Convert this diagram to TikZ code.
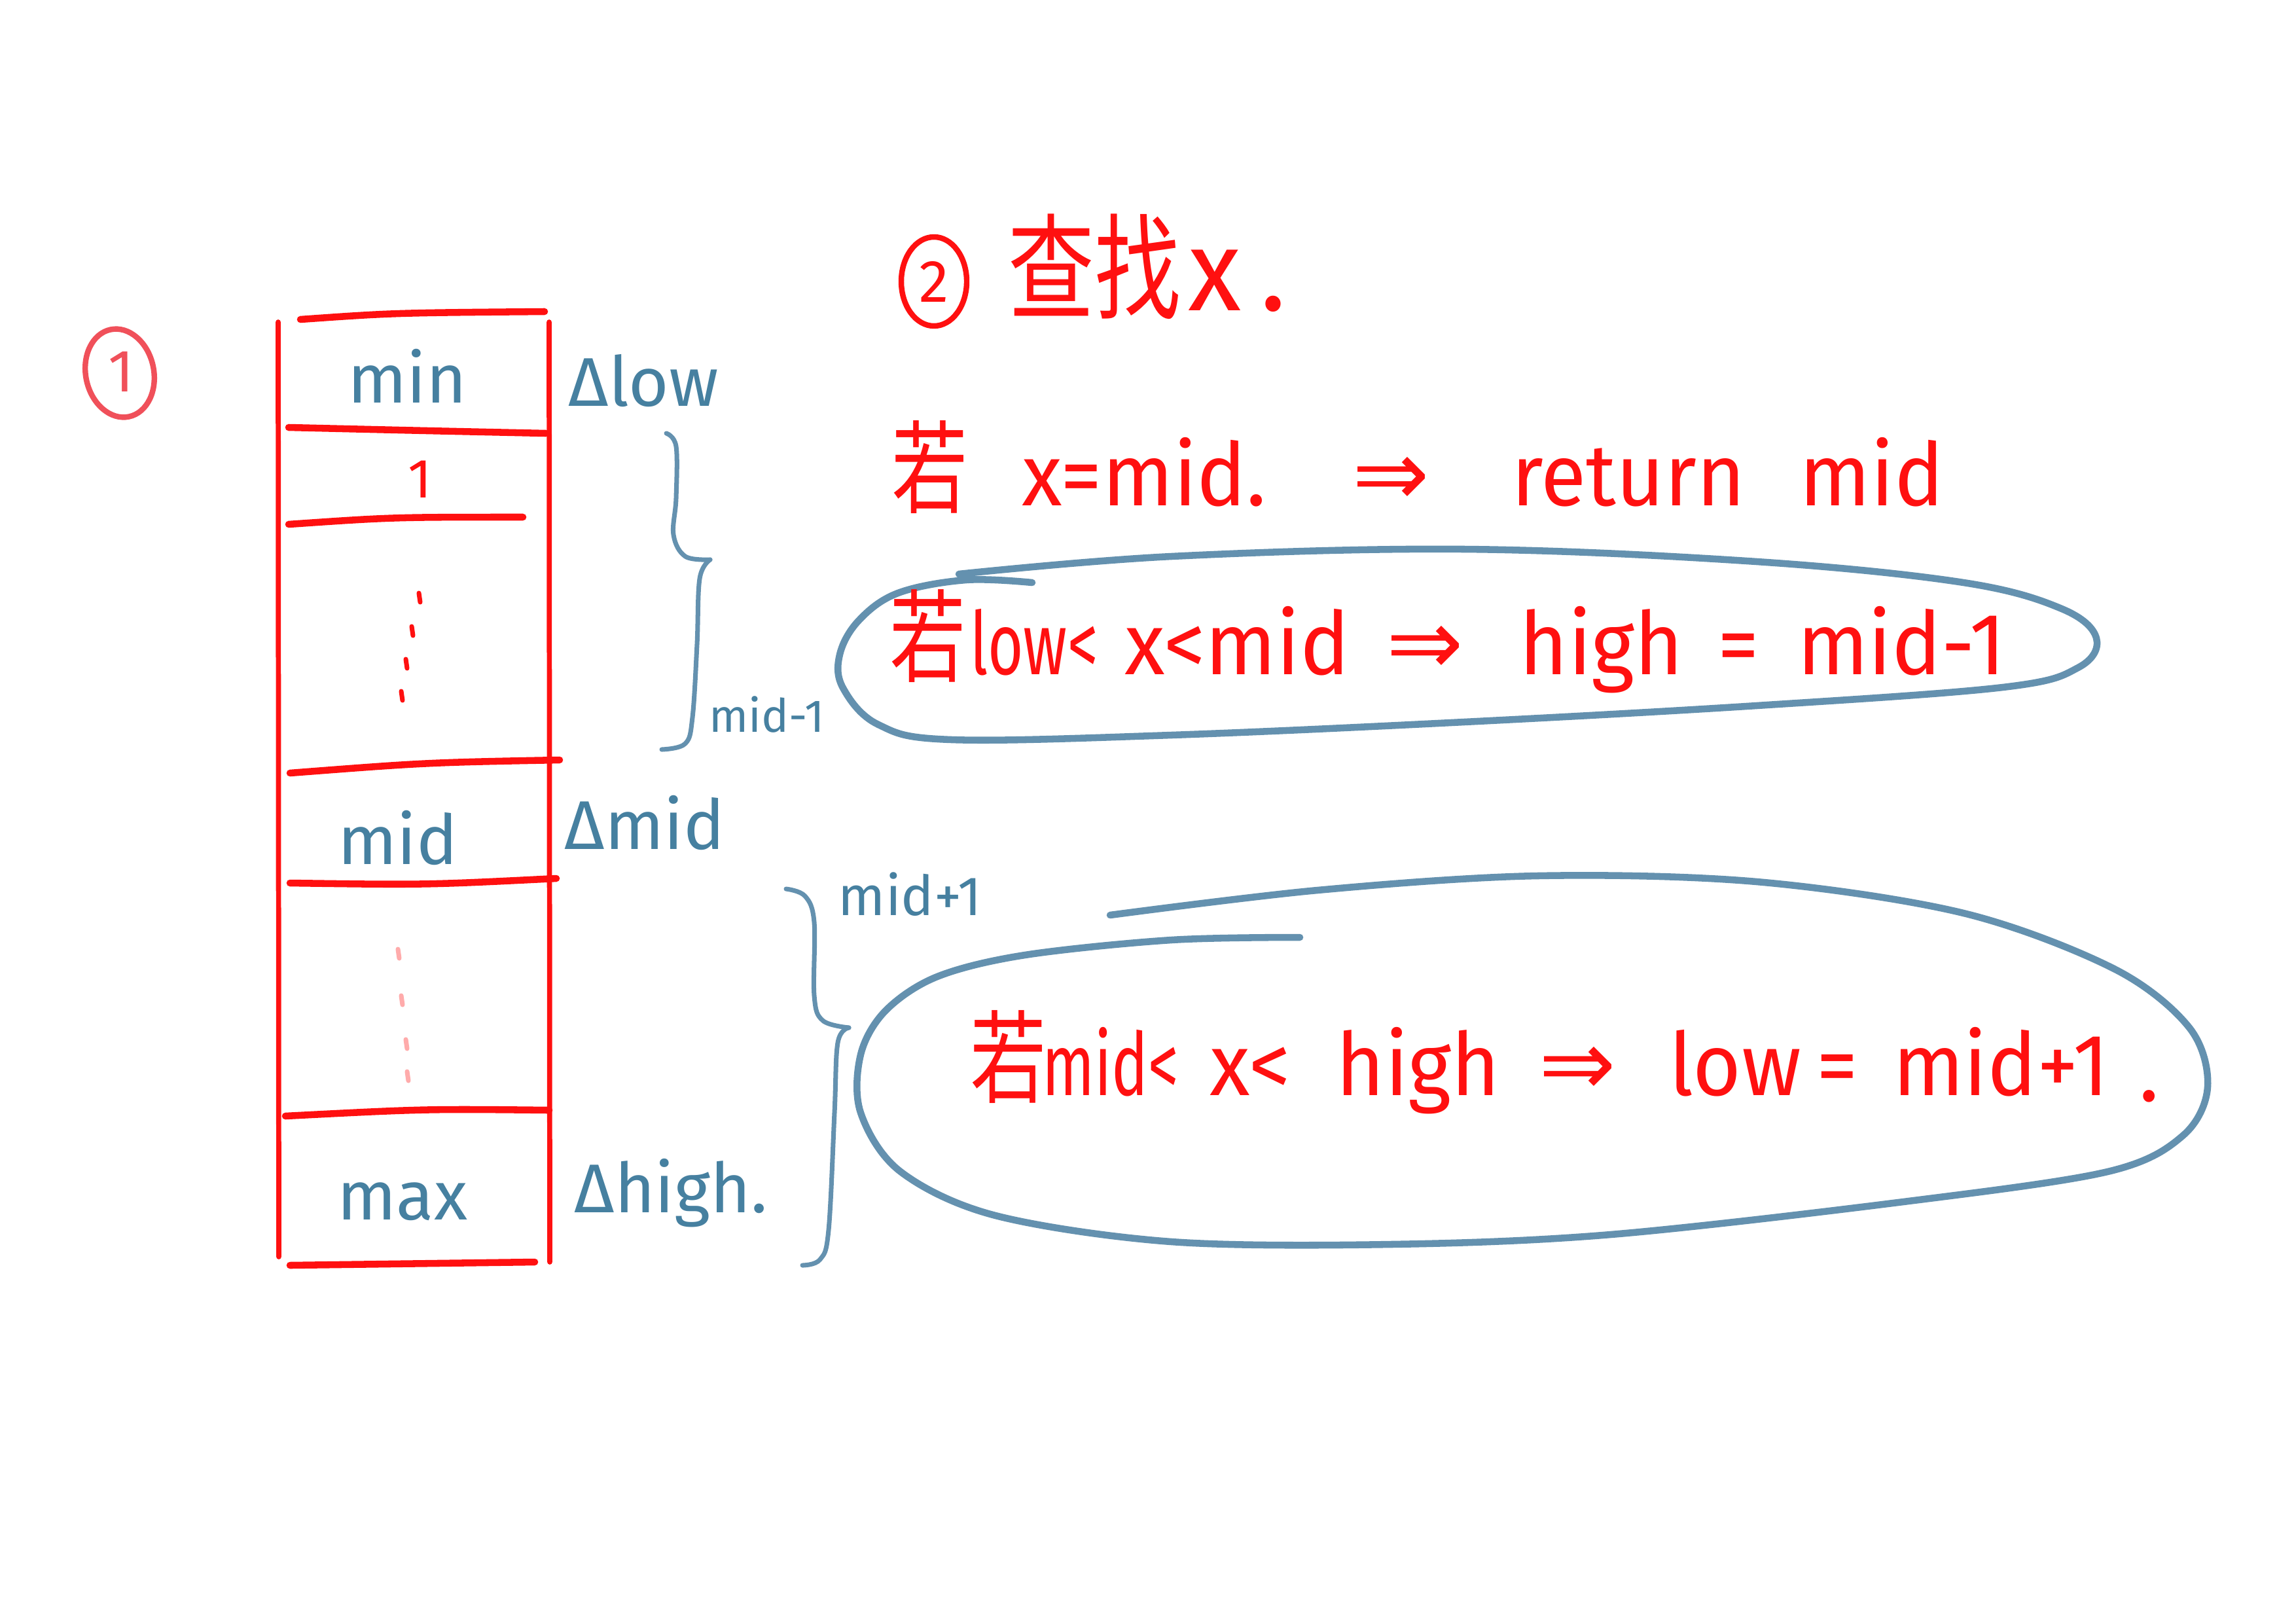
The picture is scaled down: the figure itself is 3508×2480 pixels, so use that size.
\documentclass[tikz,border=0pt]{standalone}
\usepackage{fontspec}
\setmainfont{Fira Sans}
\newfontfamily\hand[FakeStretch=0.95]{Fira Sans}
\newfontfamily\handn[FakeStretch=0.7]{Fira Sans}
\newfontfamily\cjk[FakeStretch=0.75]{Noto Sans CJK SC}
\newfontfamily\symf{DejaVu Sans}
\definecolor{inkred}{RGB}{255,16,16}
\definecolor{softred}{RGB}{240,80,90}
\definecolor{inkblue}{RGB}{70,128,160}
\definecolor{loopblue}{RGB}{100,145,175}
\begin{document}
\begin{tikzpicture}[x=0.1mm,y=-0.1mm,
  redline/.style={draw=inkred,line width=3pt,line cap=round},
  redvert/.style={draw=inkred,line width=2.2pt,line cap=round},
  loop/.style={draw=loopblue,line width=3pt,line cap=round,line join=round},
  bracestroke/.style={draw=loopblue,line width=2pt,line cap=round,line join=round},
  celltext/.style={text=inkblue,font=\fontsize{30}{36}\selectfont,anchor=base,inner sep=0pt},
  ptr/.style={text=inkblue,font=\fontsize{30}{36}\selectfont,anchor=base west,inner sep=0pt},
  small/.style={text=inkblue,font=\fontsize{20}{24}\selectfont,anchor=base west,inner sep=0pt},
  rt/.style={text=inkred,font=\hand\fontsize{38}{44}\selectfont,anchor=base,inner sep=0pt},
  rtn/.style={text=inkred,font=\handn\fontsize{38}{44}\selectfont,anchor=base,inner sep=0pt},
  rcjk/.style={text=inkred,font=\cjk\fontsize{44}{50}\selectfont,anchor=base,inner sep=0pt},
  rarr/.style={text=inkred,font=\symf\fontsize{40}{46}\selectfont,anchor=base,inner sep=0pt},
  rdot/.style={draw=inkred,line width=2pt,line cap=round},
]
\useasboundingbox (0,0) rectangle (3508,2480);
\fill[white] (0,0) rectangle (3508,2480);

% ---- circled 1
\draw[softred,line width=2.4pt,rotate around={12:(183,570)}] (183,570) ellipse [x radius=52,y radius=68];
\node[text=softred,font=\fontsize{26}{30}\selectfont,inner sep=0pt] (one) at (185,568) {1};

% ---- table
\draw[redvert] (425,492) -- (426,1920);
\draw[redvert] (839,492) -- (840,1928);
\draw[redline] (459,488) .. controls (600,478) .. (832,476);
\draw[redline] (441,653) .. controls (650,658) .. (834,662);
\draw[redline] (441,801) .. controls (600,790) .. (799,790);
\draw[redline] (443,1181) .. controls (650,1165) .. (855,1161);
\draw[redline] (443,1349) .. controls (650,1352) .. (850,1342);
\draw[redline] (436,1705) .. controls (650,1694) .. (839,1696);
\draw[redline] (443,1933) -- (817,1928);

\node[celltext] (cmin) at (622,615) {min};
\node[text=inkred,font=\fontsize{24}{28}\selectfont,anchor=base,inner sep=0pt] (cone) at (642,760) {1};
\node[celltext] (cmid) at (608,1320) {mid};
\node[celltext] (cmax) at (615,1863) {max};

% vertical dots
\foreach \p in {(640,906),(629,957),(620,1007),(613,1056)}
  \draw[rdot] \p -- ++(2,14);
\foreach \p in {(608,1450),(613,1521),(620,1588),(622,1637)}
  \draw[rdot,opacity=0.35] \p -- ++(2,14);

% pointers
\node[ptr] (plow) at (868,620) {Δlow};
\node[ptr] (pmid) at (862,1297) {Δmid};
\node[ptr] (phigh) at (877,1852) {Δhigh.};

% braces
\draw[bracestroke] plot[smooth,tension=0.6] coordinates {(1018,662) (1033,682) (1033,761) (1029,817) (1047,850) (1085,855)};
\draw[bracestroke] plot[smooth,tension=0.6] coordinates {(1085,855) (1069,884) (1065,984) (1058,1096) (1047,1136) (1011,1145)};
\node[small] (mminus) at (1083,1118) {mid-1};

\draw[bracestroke] plot[smooth,tension=0.6] coordinates {(1201,1358) (1230,1369) (1244,1409) (1244,1521) (1257,1559) (1297,1570)};
\draw[bracestroke] plot[smooth,tension=0.6] coordinates {(1297,1570) (1280,1593) (1275,1700) (1266,1879) (1253,1924) (1226,1933)};
\node[small,font=\fontsize{24}{28}\selectfont] (mplus) at (1280,1398) {mid+1};

% ---- title
\draw[inkred,line width=2.4pt] (1427,430) ellipse [x radius=50,y radius=68];
\node[text=inkred,font=\fontsize{26}{30}\selectfont,inner sep=0pt] (two) at (1427,430) {2};
\node[rcjk,anchor=base west,font=\cjk\fontsize{50}{56}\selectfont] (title) at (1540,474) {查找};
\node[rt,anchor=base west,font=\hand\fontsize{50}{56}\selectfont] (titlex) at (1815,474) {x\,.};

% ---- line 1
\node[rcjk] (l1a) at (1420,772) {若};
\node[rt] (l1b) at (1748,772) {x=mid.};
\node[rarr] (l1c) at (2125,772) {⇒};
\node[rt] (l1d) at (2488,772) {return};
\node[rt] (l1e) at (2860,772) {mid};

% ---- loop 1
\draw[loop] plot[smooth,tension=0.6] coordinates {(1465,877) (1790,850) (2237,839) (2684,858) (3000,890) (3150,930) (3203,975) (3175,1020) (3060,1050) (2684,1078) (2237,1103) (1790,1123) (1454,1130) (1342,1107) (1288,1051) (1283,1000) (1312,948) (1372,906) (1476,886) (1577,890)};

% ---- line 2
\node[rcjk] (l2a) at (1417,1030) {若};
\node[rtn] (l2b) at (1580,1030) {low<};
\node[rt] (l2c) at (1890,1030) {x<mid};
\node[rarr] (l2d) at (2177,1030) {⇒};
\node[rt] (l2e) at (2447,1030) {high};
\node[rt] (l2f) at (2656,1030) {=};
\node[rt] (l2g) at (2905,1030) {mid-1};

% ---- loop 2
\draw[loop] plot[smooth,tension=0.55] coordinates {(1696,1398) (2013,1360) (2349,1338) (2684,1347) (3000,1395) (3230,1480) (3345,1570) (3373,1660) (3335,1735) (3220,1790) (2908,1836) (2461,1886) (2125,1901) (1790,1897) (1521,1857) (1376,1790) (1315,1700) (1315,1611) (1353,1544) (1432,1492) (1566,1459) (1790,1436) (1986,1432)};

% ---- line 3
\node[rcjk] (l3a) at (1540,1673) {若};
\node[rtn] (l3b) at (1697,1673) {mid<};
\node[rt] (l3c) at (1910,1673) {x<};
\node[rt] (l3d) at (2167,1673) {high};
\node[rarr] (l3e) at (2410,1673) {⇒};
\node[rt] (l3f) at (2651,1673) {low};
\node[rt] (l3g) at (2807,1673) {=};
\node[rt] (l3h) at (3057,1673) {mid+1};
\node[rt] (l3i) at (3284,1682) {.};
\end{tikzpicture}
\end{document}
